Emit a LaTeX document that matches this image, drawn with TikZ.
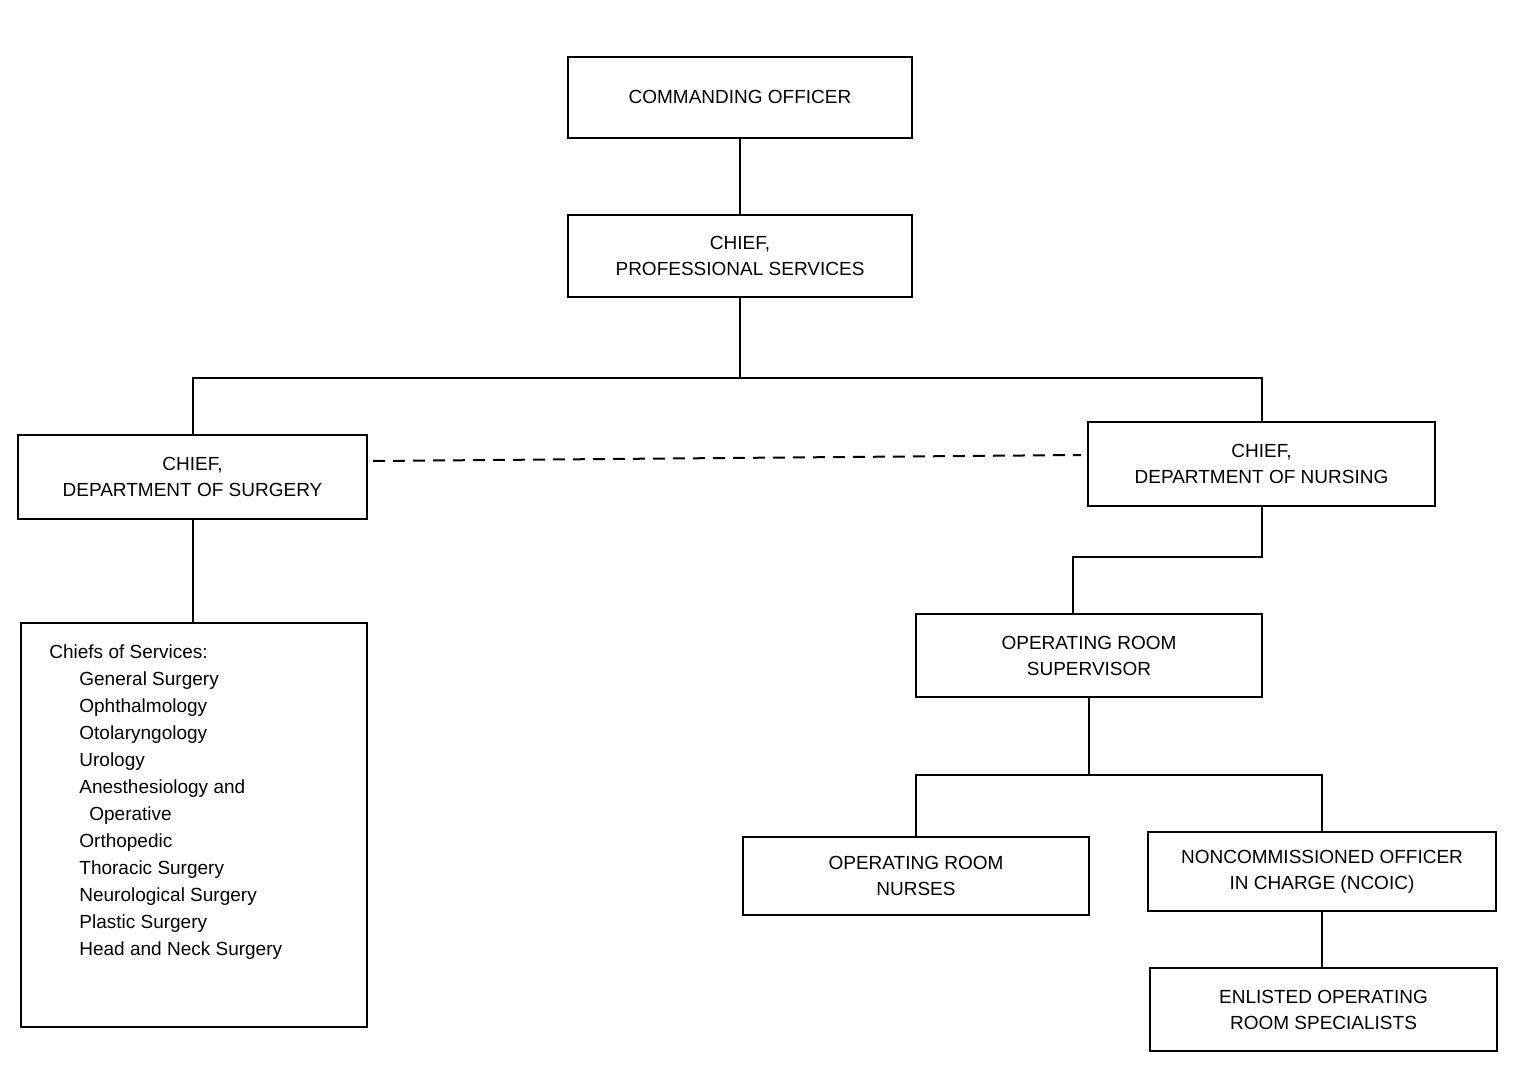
\documentclass[tikz,border=0pt]{standalone}
\usepackage{fontspec}
\setmainfont{Liberation Sans}
\usetikzlibrary{positioning,calc}

\begin{document}
\begin{tikzpicture}[
  x=0.5pt, y=-0.5pt,
  every node/.style={font=\fontsize{9.5}{13}\selectfont},
  box/.style={draw, line width=1pt, align=center, inner sep=0pt},
  link/.style={line width=1pt},
]
\useasboundingbox (0,0) rectangle (1536,1077);

% top of the chart
\node[box, minimum width=172pt, minimum height=40.5pt] (co) at (740,97) {COMMANDING OFFICER};
\node[box, minimum width=172pt, minimum height=41pt] (cps) at (740,256) {CHIEF,\\PROFESSIONAL SERVICES};

% departments
\node[box, minimum width=174.5pt, minimum height=42pt] (cds) at (192.5,477) {CHIEF,\\DEPARTMENT OF SURGERY};
\node[box, minimum width=173.5pt, minimum height=42pt] (cdn) at (1261.5,464) {CHIEF,\\DEPARTMENT OF NURSING};

% surgery side
\node[box, minimum width=173pt, minimum height=202pt] (chiefs) at (194,825) {};
\node[anchor=north west, align=left, inner sep=0pt,
      font=\fontsize{9.5}{13.5}\selectfont] (services) at (49,644) {%
Chiefs of Services:\\
\hspace*{15pt}General Surgery\\
\hspace*{15pt}Ophthalmology\\
\hspace*{15pt}Otolaryngology\\
\hspace*{15pt}Urology\\
\hspace*{15pt}Anesthesiology and\\
\hspace*{20pt}Operative\\
\hspace*{15pt}Orthopedic\\
\hspace*{15pt}Thoracic Surgery\\
\hspace*{15pt}Neurological Surgery\\
\hspace*{15pt}Plastic Surgery\\
\hspace*{15pt}Head and Neck Surgery};

% nursing side
\node[box, minimum width=173pt, minimum height=41.5pt] (ors) at (1089,655.5) {OPERATING ROOM\\SUPERVISOR};
\node[box, minimum width=173pt, minimum height=39pt] (orn) at (916,876) {OPERATING ROOM\\NURSES};
\node[box, minimum width=174pt, minimum height=39.5pt] (ncoic) at (1322,871.5) {NONCOMMISSIONED OFFICER\\IN CHARGE (NCOIC)};
\node[box, minimum width=173.5pt, minimum height=41.5pt] (eors) at (1323.5,1009.5) {ENLISTED OPERATING\\ROOM SPECIALISTS};

% connectors
\coordinate (j1) at (740,378);
\coordinate (j2) at (1073,557);
\coordinate (j3) at (1089,775);
\draw[link] (co) -- (cps);
\draw[link] (cps) -- (j1);
\draw[link] (cds.north) |- (j1) -| (cdn.north);
\draw[link] (cds.south) -- (cds.south |- chiefs.north);
\draw[link, dash pattern=on 6pt off 4pt] ([shift={(5,-16)}]cds.east) -- ([shift={(-6,-9)}]cdn.west);
\draw[link] (cdn.south) |- (j2) -- (j2 |- ors.north);
\draw[link] (ors) -- (j3);
\draw[link] (orn.north) |- (j3) -| (ncoic.north);
\draw[link] (ncoic.south) -- (ncoic.south |- eors.north);

\end{tikzpicture}
\end{document}
